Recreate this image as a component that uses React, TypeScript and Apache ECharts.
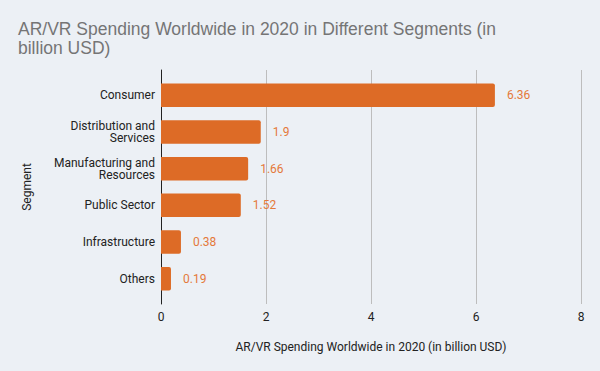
import React, { useEffect, useRef } from "react";
import * as echarts from "echarts";

const categories = [
  "Consumer",
  "Distribution and\nServices",
  "Manufacturing and\nResources",
  "Public Sector",
  "Infrastructure",
  "Others",
];
const values = [6.36, 1.9, 1.66, 1.52, 0.38, 0.19];
const xTicks = { min: 0, max: 8, interval: 2 };

const BAR = "#dd6b26";
const LABEL = "#e4793a";
const FONT = "Roboto";

export default function App() {
  const ref = useRef<HTMLDivElement>(null);
  useEffect(() => {
    document.body.style.margin = "0";
    const chart = echarts.init(ref.current!, null, { renderer: "svg" });
    chart.setOption({
      animation: false,
      backgroundColor: "#ecf0f5",
      textStyle: { fontFamily: FONT },
      title: {
        text: "AR/VR Spending Worldwide in 2020 in Different Segments (in\nbillion USD)",
        left: 13,
        top: 14,
        textStyle: {
          fontFamily: "Liberation Sans",
          fontSize: 17.5,
          fontWeight: "normal",
          color: "#757575",
          lineHeight: 19.5,
        },
      },
      grid: [
        { left: 161, right: 19, top: 70, bottom: 67 },
        { left: 161, right: 19, top: 77, bottom: 74 },
      ],
      xAxis: [
        {
          gridIndex: 0,
          type: "value",
          min: xTicks.min,
          max: xTicks.max,
          interval: xTicks.interval,
          name: "AR/VR Spending Worldwide in 2020 (in billion USD)",
          nameLocation: "middle",
          nameGap: 37,
          nameTextStyle: { color: "#222", fontSize: 12, fontFamily: FONT },
          axisLine: { show: false },
          axisTick: { show: false },
          axisLabel: { color: "#222", fontSize: 12, margin: 7, fontFamily: FONT },
          splitLine: { show: true, lineStyle: { color: "#bdbdbd", width: 1 } },
        },
        {
          gridIndex: 1,
          type: "value",
          min: xTicks.min,
          max: xTicks.max,
          interval: xTicks.interval,
          show: false,
        },
      ],
      yAxis: [
        {
          gridIndex: 0,
          type: "value",
          min: 0,
          max: 1,
          name: "Segment",
          nameLocation: "middle",
          nameGap: 128,
          nameTextStyle: { color: "#222", fontSize: 12, fontFamily: FONT },
          axisLine: { show: true, lineStyle: { color: "#222", width: 1 } },
          axisTick: { show: false },
          axisLabel: { show: false },
          splitLine: { show: false },
        },
        {
          gridIndex: 1,
          type: "category",
          inverse: true,
          data: categories,
          axisLine: { show: false },
          axisTick: { show: false },
          axisLabel: {
            color: "#222",
            fontSize: 12,
            margin: 6,
            lineHeight: 12,
            fontFamily: FONT,
          },
        },
      ],
      series: [
        {
          type: "bar",
          xAxisIndex: 1,
          yAxisIndex: 1,
          data: values,
          barCategoryGap: "36%",
          itemStyle: { color: BAR, borderRadius: [0, 2, 2, 0] },
          label: {
            show: true,
            position: "right",
            distance: 12,
            color: LABEL,
            fontSize: 12,
            fontFamily: FONT,
          },
        },
      ],
    });
    return () => chart.dispose();
  }, []);
  return <div ref={ref} style={{ width: 600, height: 371 }} />;
}
